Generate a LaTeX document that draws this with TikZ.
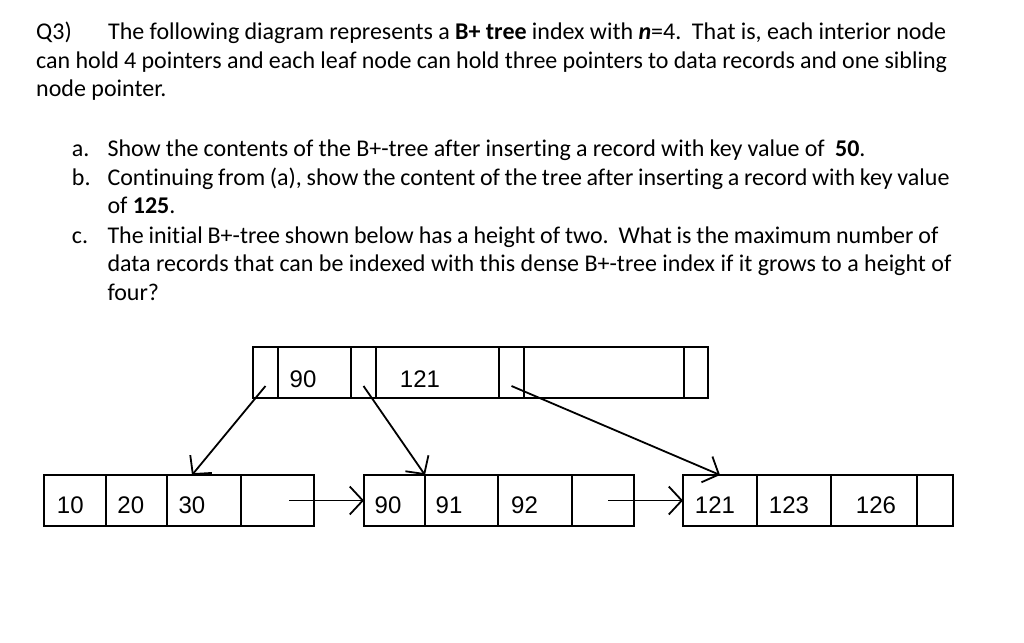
\documentclass[tikz,border=0pt]{standalone}
\usepackage{fontspec}
\setmainfont[Ligatures=NoCommon]{Carlito}
\newfontfamily\treefont{Liberation Sans}
\usetikzlibrary{arrows.meta}
\newcommand\fitline[2]{\makebox[#1pt][s]{#2}}
\tikzset{
  cell/.style={draw, line width=2pt, minimum height=51pt, inner sep=0pt, outer sep=0pt},
  txt/.style={anchor=base west, inner sep=0pt, font=\fontsize{24}{28}\selectfont},
  num/.style={anchor=base, inner sep=0pt, font=\treefont\fontsize{24}{28}\selectfont},
  ptr/.style={line width=1.8pt, -{Straight Barb[length=13pt,width=28pt]}}
}
\begin{document}
\begin{tikzpicture}[x=1pt,y=-1pt]
\useasboundingbox (0,0) rectangle (1024,642);
% question text
\node[txt] (q) at (36,40) {Q3)};
\node[txt] (l1) at (108,40) {\fitline{838}{The following diagram represents a \textbf{B+ tree} index with \textbf{\textit{n}}=4.\ \ That is, each interior node}};
\node[txt] (l2) at (36,68.3) {\fitline{911}{can hold 4 pointers and each leaf node can hold three pointers to data records and one sibling}};
\node[txt] (l3) at (36,96.7) {node pointer.};
\node[txt] (ia) at (71.7,156) {a.};
\node[txt] (ta) at (107.3,156) {\fitline{758}{Show the contents of the B+-tree after inserting a record with key value of\ \ \textbf{50}.}};
\node[txt] (ib) at (71.7,185) {b.};
\node[txt] (tb1) at (107.3,185) {\fitline{842}{Continuing from (a), show the content of the tree after inserting a record with key value}};
\node[txt] (tb2) at (107.3,213.3) {of \textbf{125}.};
\node[txt] (ic) at (71.7,243.3) {c.};
\node[txt] (tc1) at (107.3,243.3) {\fitline{831}{The initial B+-tree shown below has a height of two.\ \ What is the maximum number of}};
\node[txt] (tc2) at (107.3,271.7) {\fitline{844}{data records that can be indexed with this dense B+-tree index if it grows to a height of}};
\node[txt] (tc3) at (107.3,300) {four?};
% interior node
\node[cell,minimum width=25pt] (t1) at (265.5,372.5) {};
\node[cell,minimum width=73pt] (t2) at (314.5,372.5) {};
\node[cell,minimum width=25pt] (t3) at (363.5,372.5) {};
\node[cell,minimum width=123pt] (t4) at (437.5,372.5) {};
\node[cell,minimum width=25pt] (t5) at (511.5,372.5) {};
\node[cell,minimum width=160pt] (t6) at (604,372.5) {};
\node[cell,minimum width=24pt] (t7) at (696,372.5) {};
\node[num] (k1) at (303,387.3) {90};
\node[num] (k2) at (420,387.3) {121};
% leaf 1
\node[cell,minimum width=62pt] (l1a) at (75,500.5) {};
\node[cell,minimum width=61pt] (l1b) at (136.5,500.5) {};
\node[cell,minimum width=74pt] (l1c) at (204,500.5) {};
\node[cell,minimum width=73pt] (l1d) at (277.5,500.5) {};
% leaf 2
\node[cell,minimum width=61pt] (l2a) at (394.5,500.5) {};
\node[cell,minimum width=73pt] (l2b) at (461.5,500.5) {};
\node[cell,minimum width=74pt] (l2c) at (535,500.5) {};
\node[cell,minimum width=62pt] (l2d) at (603,500.5) {};
% leaf 3
\node[cell,minimum width=74pt] (l3a) at (720,500.5) {};
\node[cell,minimum width=74pt] (l3b) at (794,500.5) {};
\node[cell,minimum width=86pt] (l3c) at (874,500.5) {};
\node[cell,minimum width=36pt] (l3d) at (935,500.5) {};
% leaf keys
\node[num] (v10) at (70.3,513.3) {10};
\node[num] (v20) at (130.8,513.3) {20};
\node[num] (v30) at (192,513.3) {30};
\node[num] (v90) at (388,513.3) {90};
\node[num] (v91) at (449,513.3) {91};
\node[num] (v92) at (524.5,513.3) {92};
\node[num] (v121) at (715,513.3) {121};
\node[num] (v123) at (789,513.3) {123};
\node[num] (v126) at (876,513.3) {126};
% pointers
\draw[ptr] ([yshift=-13.5pt]t1.center) -- ([xshift=25pt]l1c.north west);
\draw[ptr] ([yshift=-13.5pt]t3.center) -- (l2b.north west);
\draw[ptr] ([yshift=-13.5pt]t5.center) -- (l3a.north);
\draw[ptr] ([xshift=11.5pt]l1d.center) -- (l2a.west);
\draw[ptr] ([xshift=5pt]l2d.center) -- (l3a.west);
\end{tikzpicture}
\end{document}
